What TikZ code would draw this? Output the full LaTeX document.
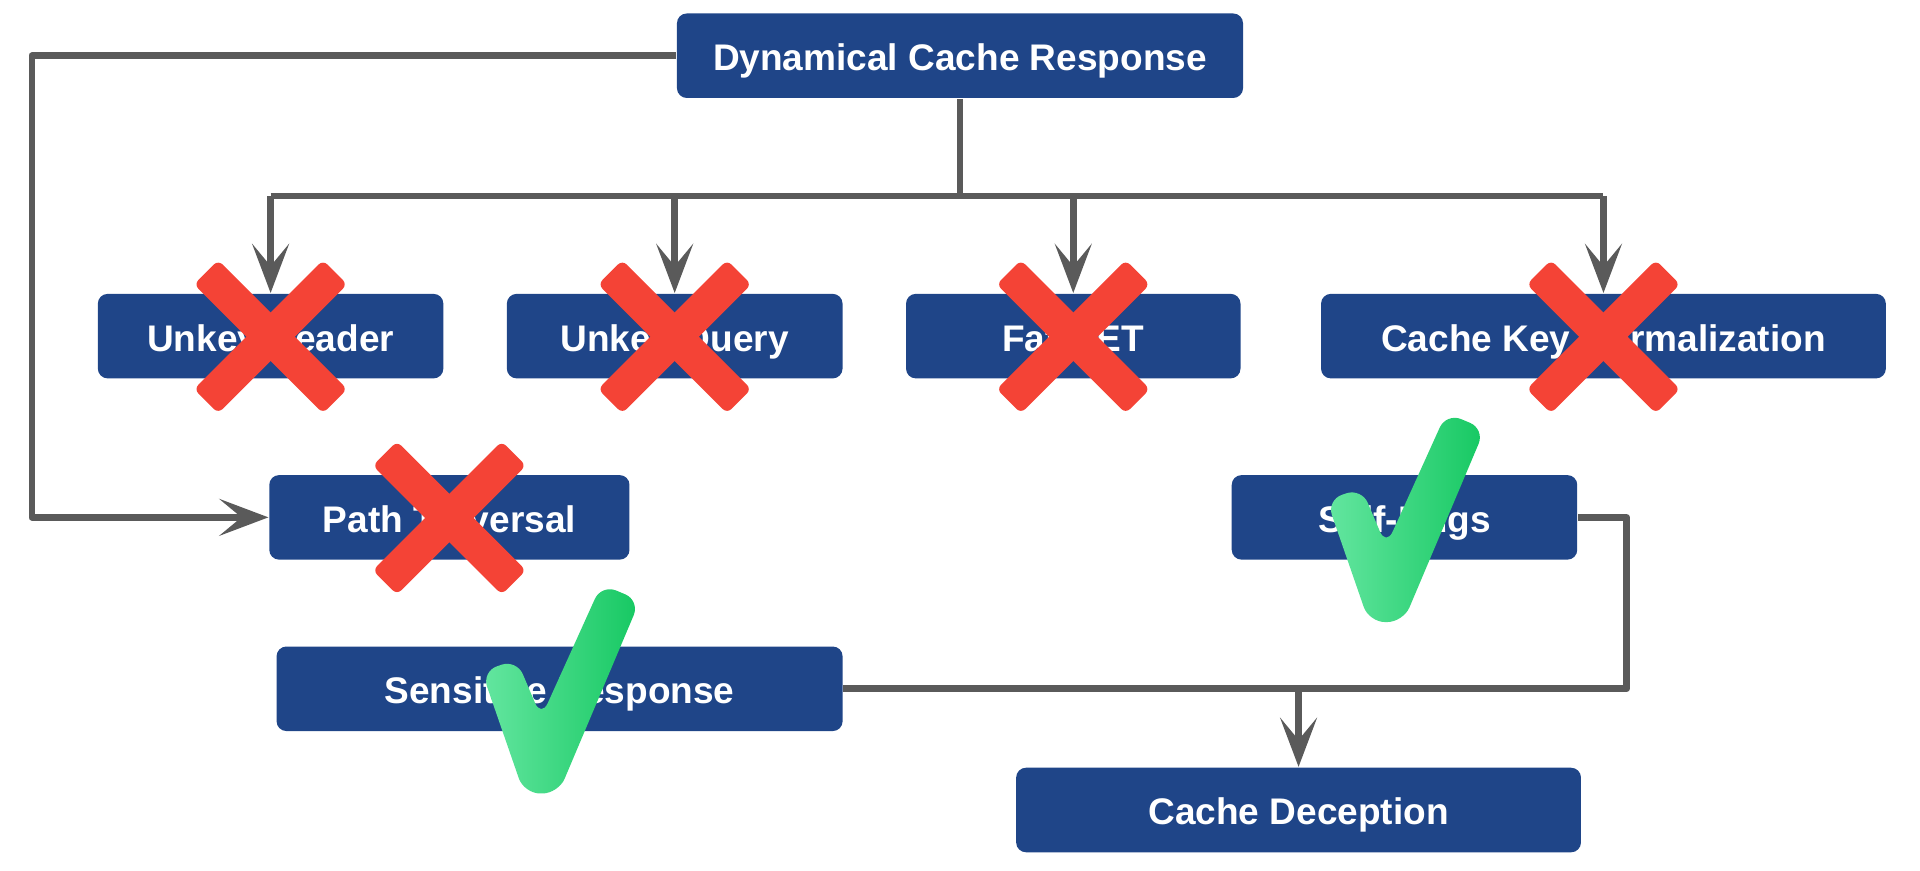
\documentclass[tikz,border=0pt]{standalone}
\usepackage{fontspec}
\setmainfont{Liberation Sans}
\usetikzlibrary{arrows.meta}
\definecolor{boxblue}{RGB}{31,69,136}
\definecolor{linegray}{RGB}{90,90,90}
\definecolor{xred}{RGB}{244,67,54}
\definecolor{chklight}{RGB}{100,230,160}
\definecolor{chkdark}{RGB}{22,200,98}
\tikzset{
  box/.style={rectangle, rounded corners=0.8mm, fill=boxblue, text=white,
    font=\bfseries\fontsize{8.6}{10}\selectfont, minimum height=6.9mm, inner sep=0pt,
    text height=2.44mm, text depth=0mm},
  conn/.style={draw=linegray, line width=0.54mm, line join=round},
  arr/.style={conn, -{Stealth[length=4mm, width=3mm, inset=1.8mm]}},
  redx/.pic={
    \fill[xred, rounded corners=0.5mm, rotate=45] (-74.5,-14) -- (74.5,-14) -- (74.5,14) -- (-74.5,14) -- cycle;
    \fill[xred, rounded corners=0.5mm, rotate=-45] (-74.5,-14) -- (74.5,-14) -- (74.5,14) -- (-74.5,14) -- cycle;
  },
  greencheck/.pic={
    \shade[left color=chklight, right color=chkdark, rounded corners=1.3mm]
      (-13,0) -- (-47.5,-99.6) -- (-19.1,-109.4) -- (1,-62) -- (50.2,-170.8) -- (81.6,-157.6) -- (15,0) -- cycle;
  }
}
\begin{document}
\begin{tikzpicture}[x=0.01cm,y=-0.01cm]
\useasboundingbox (0,0) rectangle (1568,711);
% boxes
\node[box, minimum width=46.2mm] (dyn) at (784,45.5) {Dynamical Cache Response};
\node[box, minimum width=28.2mm] (uh) at (221,274.5) {Unkey Header};
\node[box, minimum width=27.4mm] (uq) at (551,274.5) {Unkey Query};
\node[box, minimum width=27.3mm] (fg) at (876.5,274.5) {Fat GET};
\node[box, minimum width=46.1mm] (ck) at (1309.5,274.5) {Cache Key Normalization};
\node[box, minimum width=29.4mm] (pt) at (367,422.5) {Path Traversal};
\node[box, minimum width=28.2mm] (sb) at (1147,422.5) {Self-Bugs};
\node[box, minimum width=46.2mm] (sr) at (457,562.5) {Sensitive Response};
\node[box, minimum width=46.1mm] (cd) at (1060.5,661.5) {Cache Deception};
% red crosses
\pic at (221,275) {redx};
\pic at (551,275) {redx};
\pic at (876.5,275) {redx};
\pic at (1309.5,275) {redx};
\pic at (367,423) {redx};
% connectors
\coordinate (bus) at (784,160);
\coordinate (busL) at (uh.north |- bus);
\coordinate (busR) at (ck.north |- bus);
\coordinate (lcol) at (26,0);
\coordinate (rcol) at (1328.5,0);
\coordinate (jn) at (cd.north |- sr.east);
\draw[conn] (dyn.south) -- (bus);
\draw[conn] (busL) -- (busR);
\draw[arr] (busL) -- (uh.north);
\draw[arr] (uq.north |- bus) -- (uq.north);
\draw[arr] (fg.north |- bus) -- (fg.north);
\draw[arr] (busR) -- (ck.north);
\draw[arr] (dyn.west) -- (lcol |- dyn.west) -- (lcol |- pt.west) -- (pt.west);
\draw[conn] (sr.east) -- (rcol |- sr.east) -- (rcol |- sb.east) -- (sb.east);
\draw[arr] (jn) -- (cd.north);
% green checks
\pic at (1131,508) {greencheck};
\pic at (441,648) {greencheck};
\end{tikzpicture}
\end{document}
